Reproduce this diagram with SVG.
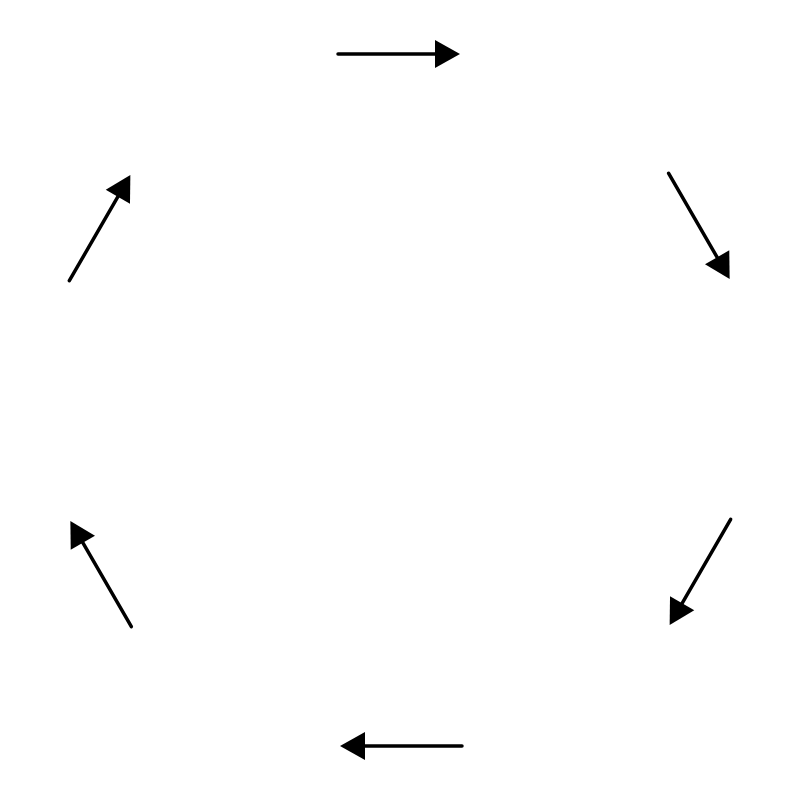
<svg xmlns="http://www.w3.org/2000/svg" xmlns:xlink="http://www.w3.org/1999/xlink" width="800" height="800" viewBox="0 0 800 800">
  <style>
    .shaft { stroke: #000; stroke-width: 3.5; stroke-linecap: round; fill: none; }
    .head { fill: #000; stroke: none; }
  </style>
  <defs>
    <g id="arrow">
      <line class="shaft" x1="338" y1="54" x2="438" y2="54"/>
      <polygon class="head" points="435,40 460,54 435,68"/>
    </g>
  </defs>
  <rect width="800" height="800" fill="#fff"/>
  <g id="connectors">
    <g id="arrow-top"><use xlink:href="#arrow" href="#arrow"/></g>
    <g id="arrow-upper-right"><use xlink:href="#arrow" href="#arrow" transform="rotate(60 400 400)"/></g>
    <g id="arrow-lower-right"><use xlink:href="#arrow" href="#arrow" transform="rotate(120 400 400)"/></g>
    <g id="arrow-bottom"><use xlink:href="#arrow" href="#arrow" transform="rotate(180 400 400)"/></g>
    <g id="arrow-lower-left"><use xlink:href="#arrow" href="#arrow" transform="rotate(240 400 400)"/></g>
    <g id="arrow-upper-left"><use xlink:href="#arrow" href="#arrow" transform="rotate(300 400 400)"/></g>
  </g>
</svg>
